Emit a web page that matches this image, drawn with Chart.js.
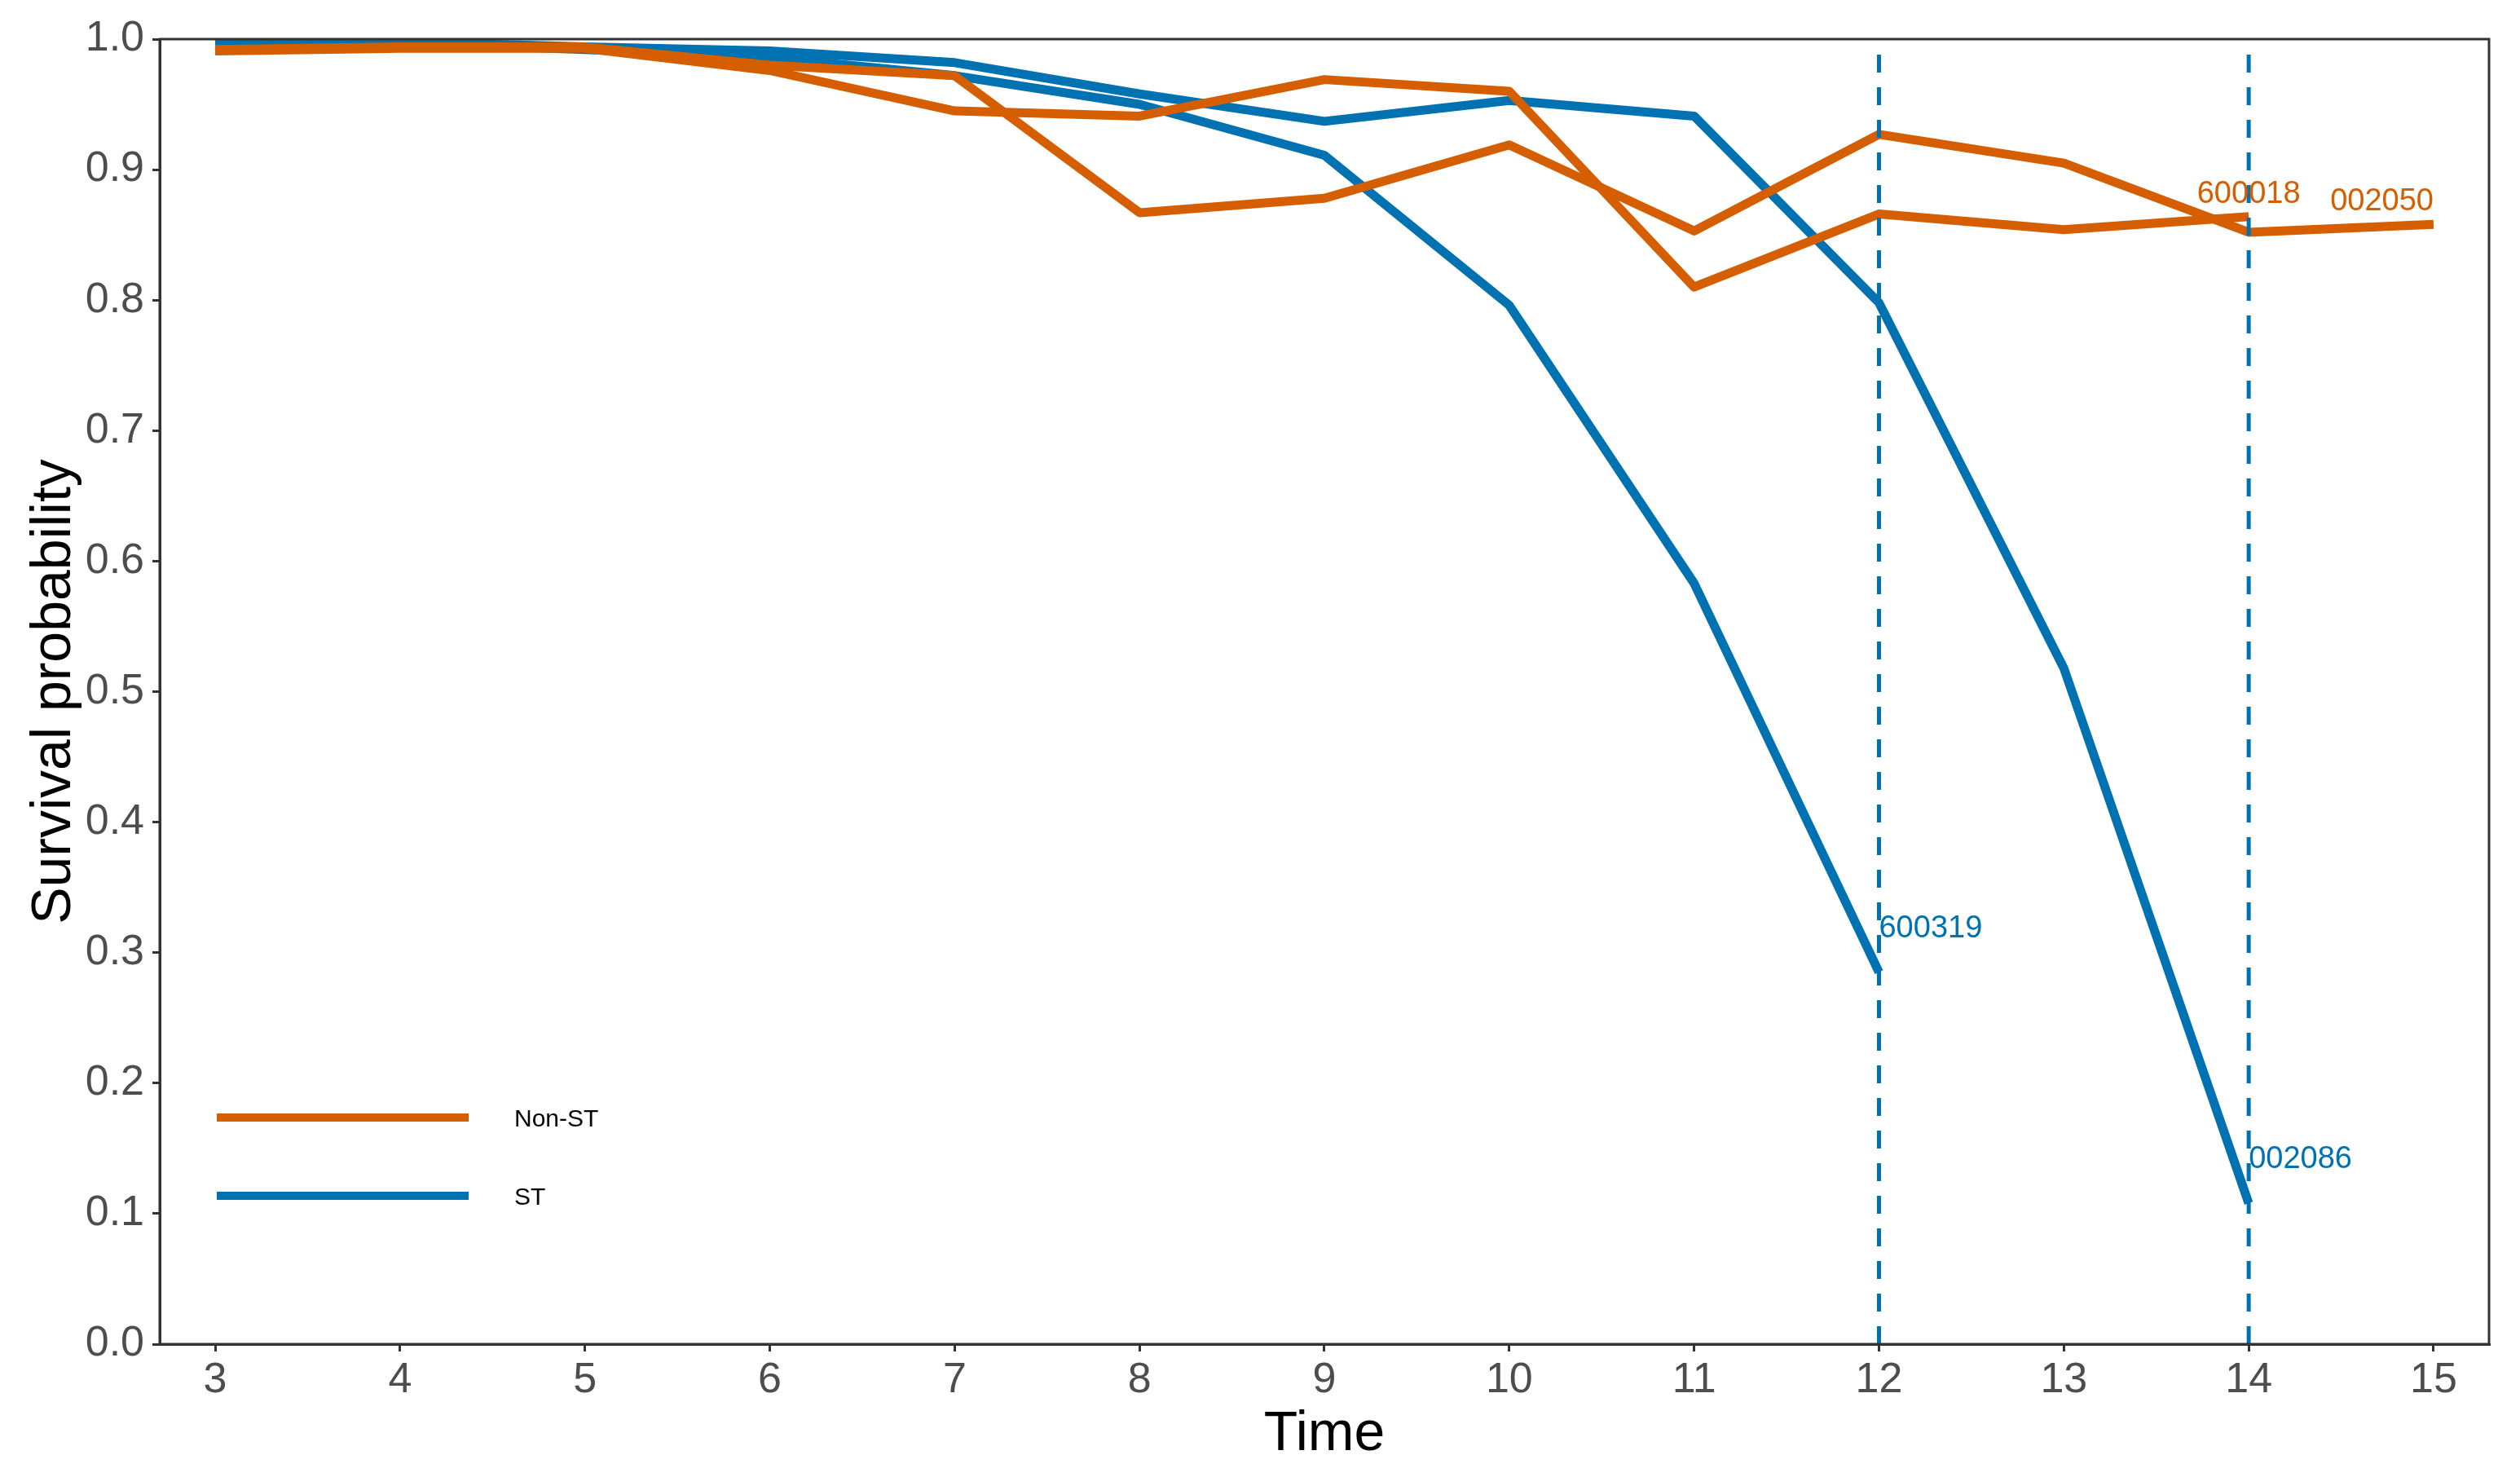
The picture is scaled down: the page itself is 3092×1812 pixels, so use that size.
<!DOCTYPE html>
<html><head><meta charset="utf-8">
<script src="https://cdn.jsdelivr.net/npm/chart.js@4.4.1/dist/chart.umd.min.js"></script>
<style>html,body{margin:0;padding:0;background:#fff;} canvas{display:block;}</style>
</head><body>
<div style="width:3092px;height:1812px;"><canvas id="c" width="3092" height="1812"></canvas></div>
<script>
// ---- data ----
const times = [3,4,5,6,7,8,9,10,11,12,13,14,15];
const yTickValues = [0,0.1,0.2,0.3,0.4,0.5,0.6,0.7,0.8,0.9,1.0];
const groups = ['Non-ST','ST'];
const cutoffTimes = [12,14];
const st600319   = [0.995,0.997,0.992,0.986,0.972,0.950,0.911,0.796,0.583,0.285];
const st002086   = [0.997,0.998,0.994,0.991,0.982,0.958,0.937,0.953,0.941,0.798,0.518,0.108];
const non600018  = [0.991,0.993,0.993,0.976,0.945,0.941,0.969,0.960,0.810,0.866,0.854,0.864];
const non002050  = [0.992,0.994,0.994,0.980,0.972,0.867,0.878,0.919,0.853,0.927,0.905,0.852,0.858];
const stockCodes = ['600018','002050','600319','002086'];
const stockGroup = ['Non-ST','Non-ST','ST','ST'];
const stockValues = [non600018, non002050, st600319, st002086];

// ---- styles ----
const FONT = '"Liberation Sans", Arial, sans-serif';
const COLORS = {'Non-ST':'#D55E00','ST':'#0072B2'};
const labelAlign = ['center','right','left','left'];
const labelLift = [17,17,43,43];

Chart.defaults.font.family = FONT;

function pts(vals){ return vals.map((v,i)=>({x:times[i], y:v})); }

const datasets = [];
cutoffTimes.forEach(t => datasets.push({
  label:'cutoff '+t, data:[{x:t,y:0},{x:t,y:1}], borderColor:COLORS['ST'],
  borderWidth:5, borderDash:[22,18], pointRadius:0, order:0, clip:0, tension:0
}));
stockCodes.forEach((code,i) => datasets.push({
  label:code, data:pts(stockValues[i]), borderColor:COLORS[stockGroup[i]],
  borderWidth:11, pointRadius:0, order: stockGroup[i]==='ST' ? 2 : 1, clip:0,
  borderJoinStyle:'round', borderCapStyle:'butt', tension:0
}));

const panelBorder = {
  id:'panelBorder',
  afterDatasetsDraw(chart){
    const {ctx, chartArea:a} = chart;
    ctx.save();
    ctx.strokeStyle = '#333333'; ctx.lineWidth = 3;
    ctx.strokeRect(a.left, a.top, a.right-a.left, a.bottom-a.top);
    ctx.restore();
  }
};

const endLabels = {
  id:'endLabels',
  afterDatasetsDraw(chart){
    const {ctx, scales:{x,y}} = chart;
    ctx.save();
    ctx.font = '38px ' + FONT;
    ctx.textBaseline = 'alphabetic';
    stockCodes.forEach((code,i) => {
      const vals = stockValues[i];
      const last = vals.length-1;
      const px = x.getPixelForValue(times[last]);
      const py = y.getPixelForValue(vals[last]) - labelLift[i];
      ctx.fillStyle = COLORS[stockGroup[i]];
      ctx.textAlign = labelAlign[i];
      ctx.fillText(code, px, py);
    });
    ctx.restore();
  }
};

const insideLegend = {
  id:'insideLegend',
  afterDatasetsDraw(chart){
    const {ctx, chartArea:a} = chart;
    ctx.save();
    groups.forEach((g,i) => {
      const y0 = a.bottom - 278 + i*96;
      const x0 = a.left + 70, x1 = x0 + 309;
      ctx.strokeStyle = COLORS[g]; ctx.lineWidth = 10; ctx.lineCap = 'butt';
      ctx.beginPath(); ctx.moveTo(x0,y0); ctx.lineTo(x1,y0); ctx.stroke();
      ctx.fillStyle = '#000'; ctx.font = '30px ' + FONT;
      ctx.textAlign = 'left'; ctx.textBaseline = 'middle';
      ctx.fillText(g, x1 + 56, y0 + 3);
    });
    ctx.restore();
  }
};

new Chart(document.getElementById('c'), {
  type:'line',
  data:{ datasets },
  options:{
    responsive:false, devicePixelRatio:1, animation:false,
    layout:{ padding:{ top:48, right:38, left:0, bottom:0 } },
    plugins:{ legend:{display:false}, tooltip:{enabled:false} },
    scales:{
      x:{
        type:'linear', min:2.7, max:15.3,
        afterBuildTicks(s){ s.ticks = times.map(v=>({value:v})); },
        afterFit(s){ s.height = 163; },
        ticks:{ font:{size:52, lineHeight:1.0}, color:'#4D4D4D', padding:10, maxRotation:0, autoSkip:false,
                callback:v=>String(v) },
        grid:{ display:true, drawOnChartArea:false, drawTicks:true, tickLength:9, color:'#333333', lineWidth:3 },
        border:{ display:true, color:'#333333', width:3 },
        title:{ display:true, text:'Time', color:'#000', font:{size:68}, padding:{top:0, bottom:11} }
      },
      y:{
        type:'linear', min:0, max:1,
        afterBuildTicks(s){ s.ticks = yTickValues.map(v=>({value:v})); },
        afterFit(s){ s.width = 196; },
        ticks:{ font:{size:52}, color:'#4D4D4D', padding:10, callback:v=>Number(v).toFixed(1) },
        grid:{ display:true, drawOnChartArea:false, drawTicks:true, tickLength:9, color:'#333333', lineWidth:3 },
        border:{ display:true, color:'#333333', width:3 },
        title:{ display:true, text:'Survival probability', color:'#000', font:{size:68}, padding:{top:26, bottom:0} }
      }
    }
  },
  plugins:[panelBorder, endLabels, insideLegend]
});
</script>
</body></html>
